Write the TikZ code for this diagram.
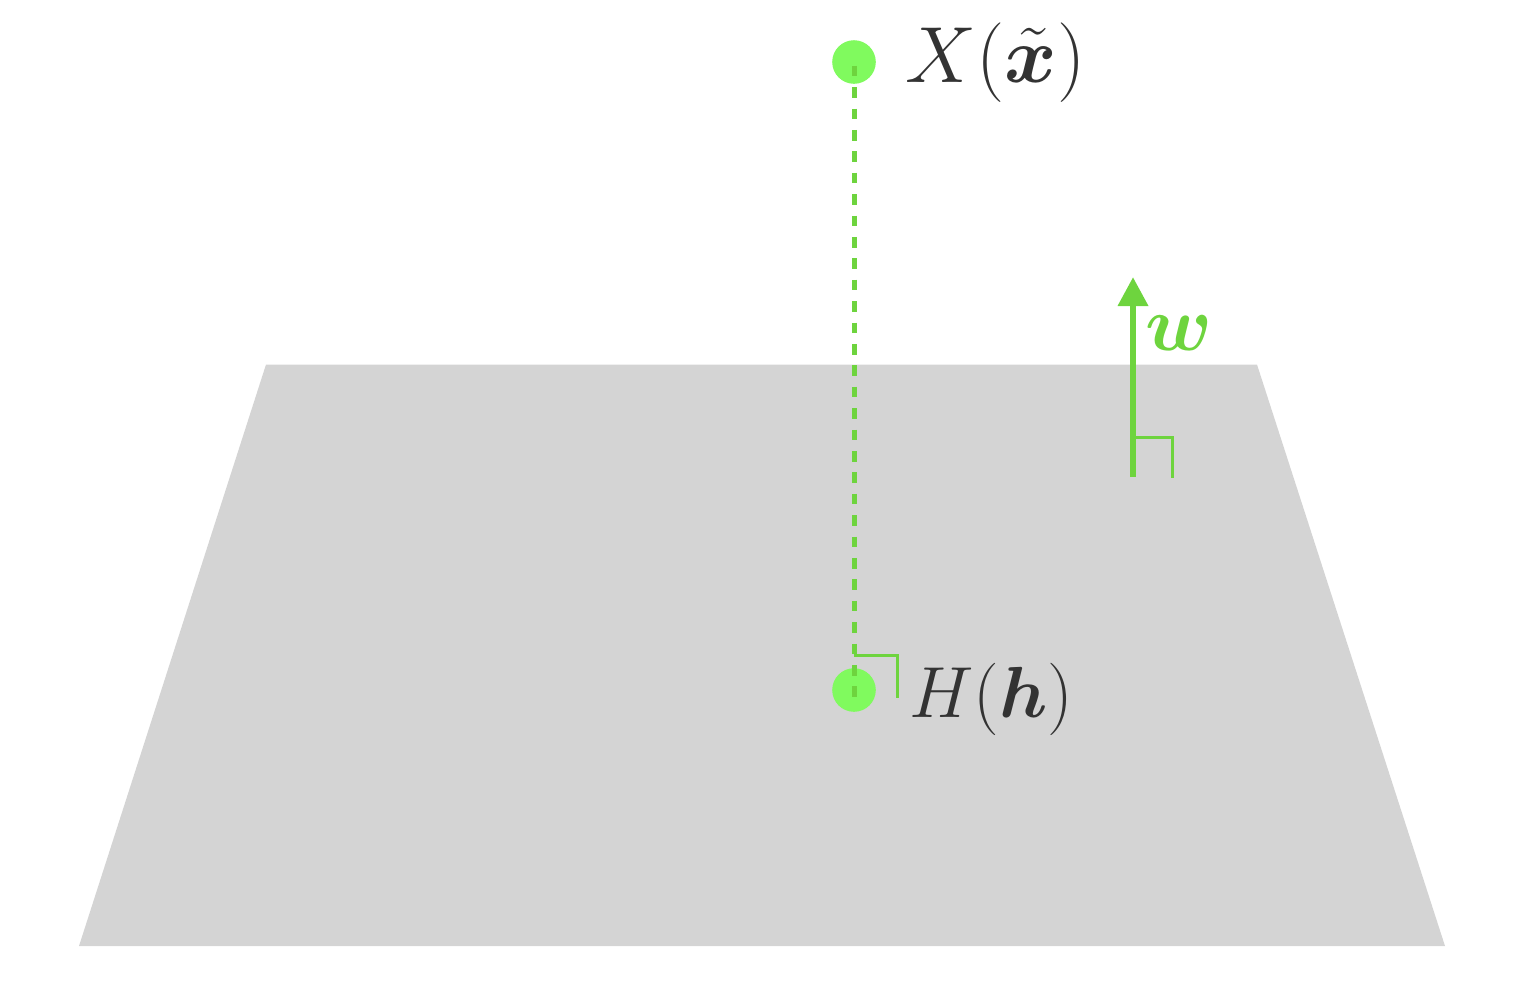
\RequirePackage{fix-cm}
\documentclass[tikz,border=0pt]{standalone}
\usepackage{amsmath}
\usepackage{bm}
\usepackage{tikz}
\usetikzlibrary{arrows.meta,calc}

\definecolor{planegray}{HTML}{D4D4D4}
\definecolor{pointgreen}{RGB}{128,250,94}
\definecolor{linegreen}{RGB}{110,212,62}
\definecolor{labelgray}{HTML}{333333}

\begin{document}
\begin{tikzpicture}[x=0.5pt,y=-0.5pt]
        \useasboundingbox (0,0) rectangle (1536,986);

        % plane
        \fill[planegray] (266,364.5) -- (1257,364.5) -- (1445,946) -- (79,946) -- cycle;

        \begin{scope}[every node/.style = {circle, fill=pointgreen, minimum size=21.8pt, inner sep=0pt}]
            \node (X) at (854,62)  {};
            \node (H) at (854,690) {};
        \end{scope}

        \begin{scope}[every node/.style = {anchor=base west, text=labelgray, inner sep=0pt}]
            \node (Xlabel) at (905,82)  {\fontsize{39.8}{48}\selectfont $X(\tilde{\bm{x}})$};
            \node (Hlabel) at (909,717) {\fontsize{36.2}{44}\selectfont $H(\bm{h})$};
        \end{scope}

        \begin{scope}[draw=linegreen, line width=1.5pt]
                \draw[line width=2.5pt, dash pattern=on 5.35pt off 5.35pt, dash phase=8.85pt]
                    (X.center) -- ($(H.center)+(0,7.4)$);
                \draw (853.7,655.7) -- (897,655.7) -- (897,697.7);

                \coordinate (wfoot) at (1133,477);
                \coordinate (whead) at (1133,277);
                \draw[line width=3.3pt, -{Triangle[width=14.5pt,length=14.5pt]}] (wfoot) -- (whead);
                \draw (1133,437) -- (1172,437) -- (1172,478);
        \end{scope}

        \node[anchor=base west, text=linegreen, inner sep=0pt] (w) at (1145,350)
            {\fontsize{39}{46}\selectfont $\bm{w}$};
\end{tikzpicture}
\end{document}
